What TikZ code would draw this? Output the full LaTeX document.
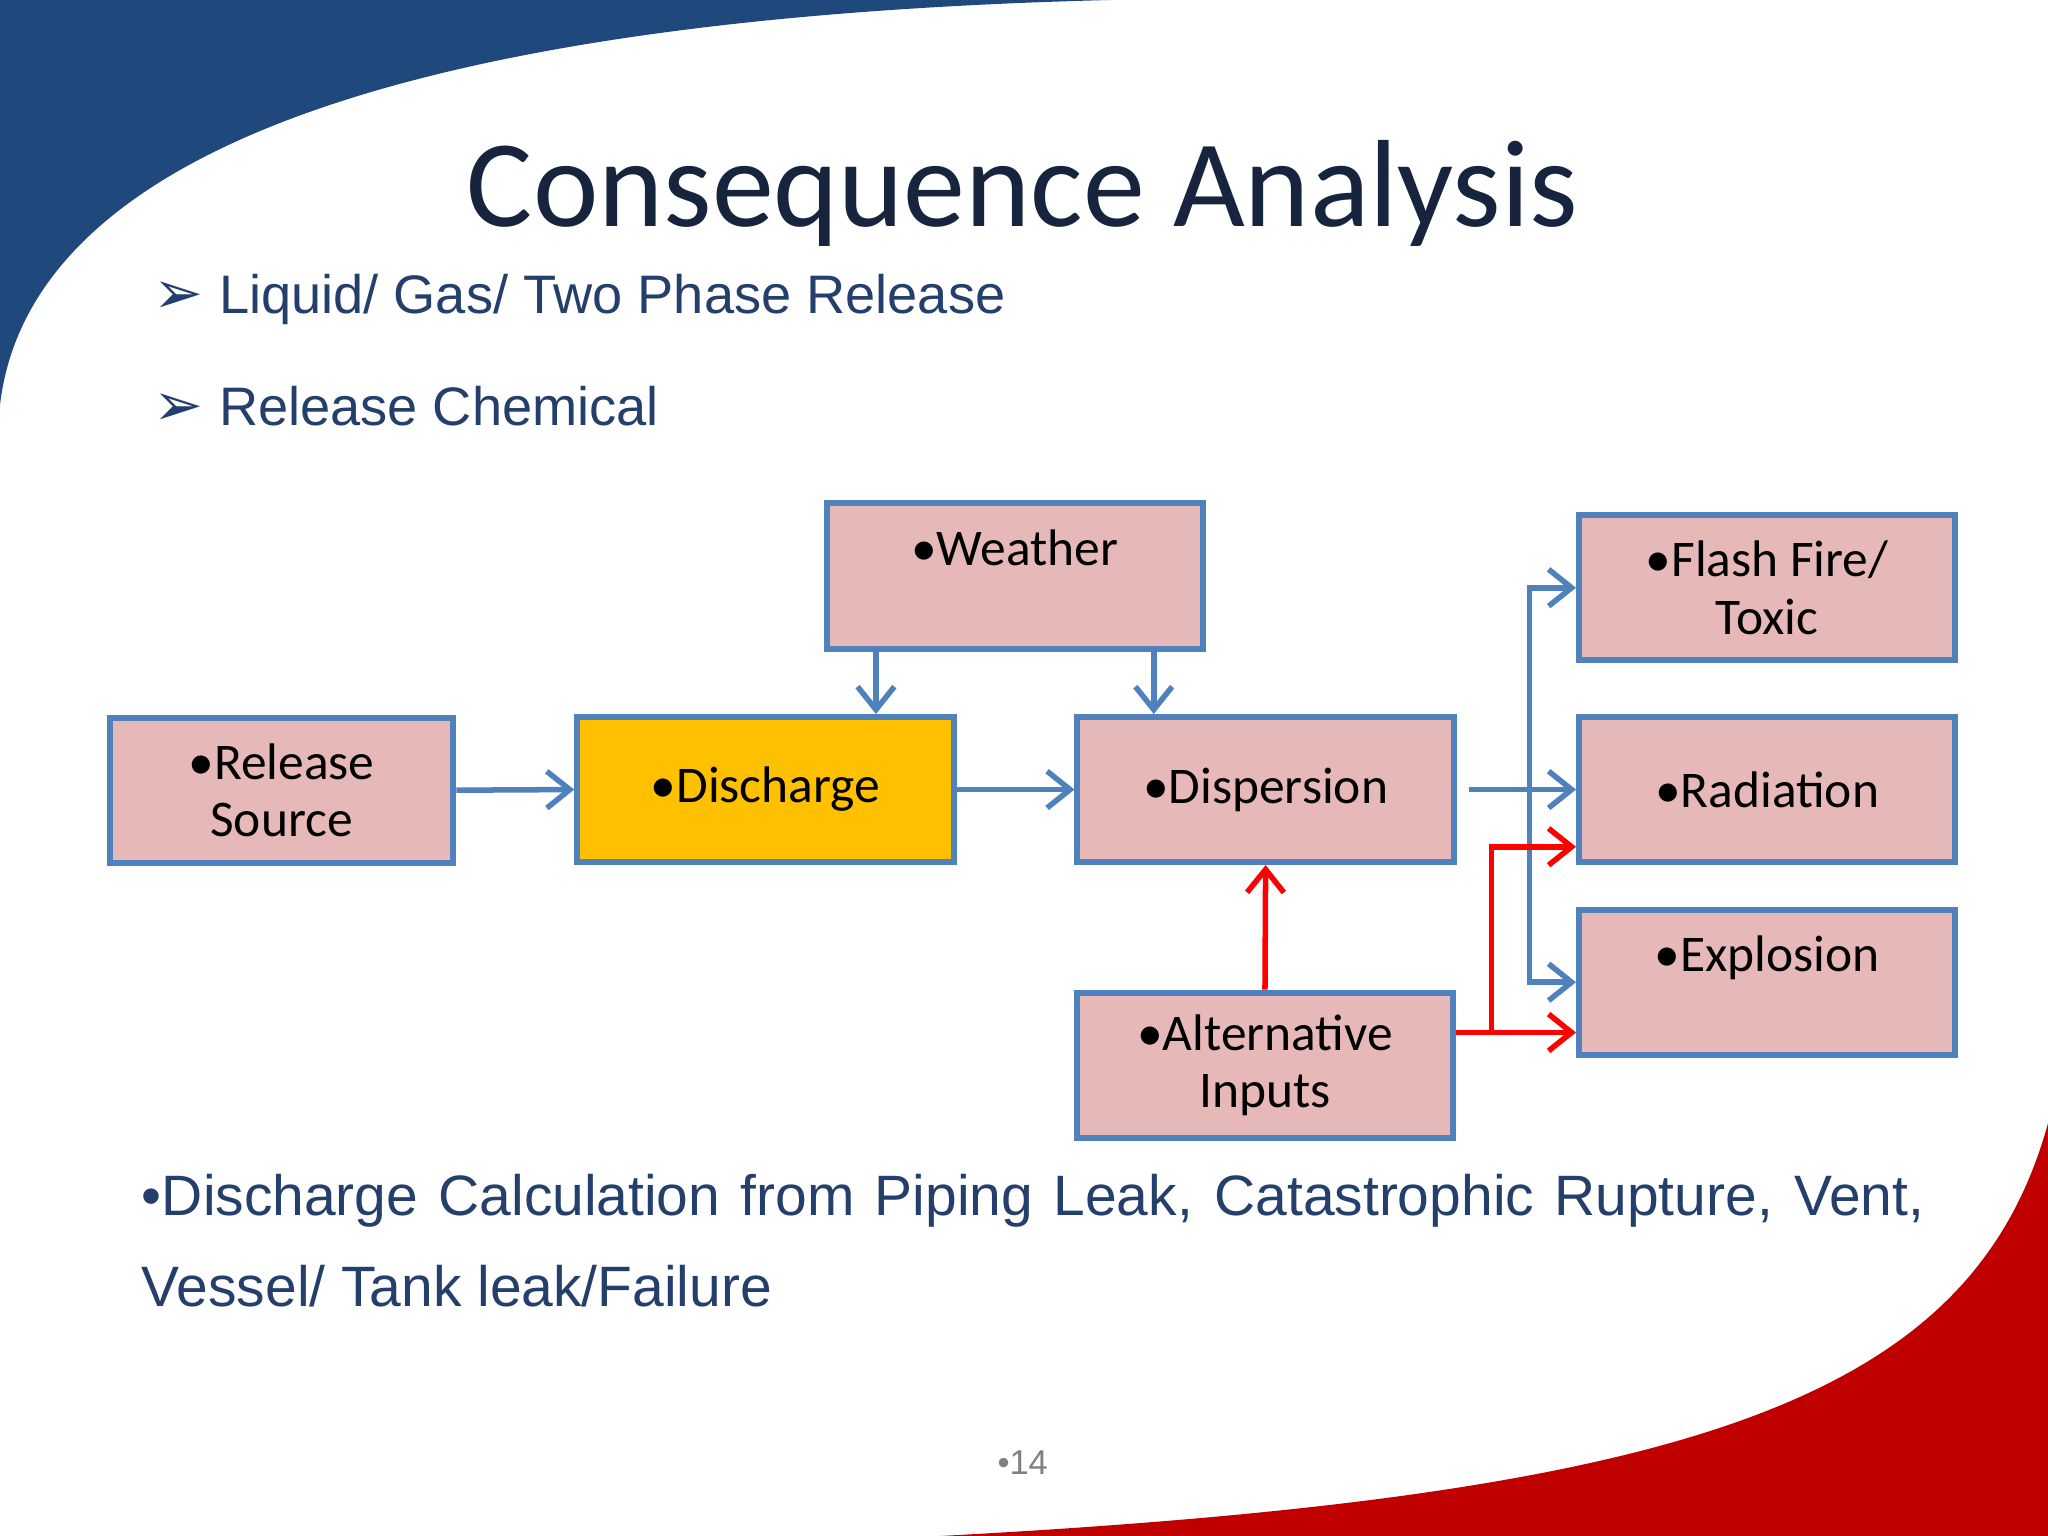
\documentclass[tikz,border=0pt]{standalone}
\usepackage{fontspec}
\setmainfont{Carlito}
\newfontfamily\arialf{Liberation Sans}
\newfontfamily\dejaf{DejaVu Sans}
\usetikzlibrary{arrows.meta,calc}
\definecolor{boxfill}{HTML}{E6B9B8}
\definecolor{boxline}{HTML}{4F81BD}
\definecolor{gold}{HTML}{FFC000}
\definecolor{titlec}{HTML}{17243D}
\definecolor{textc}{HTML}{243F6B}
\definecolor{swblue}{HTML}{1F497D}
\definecolor{swred}{HTML}{C00000}
\tikzset{
  box/.style={draw=boxline,line width=1.3pt,fill=boxfill,minimum width=2.88cm,minimum height=1.11cm,inner sep=0pt,align=center,font=\fontsize{11.2}{12.5}\selectfont},
  barrow/.style={draw=boxline,line width=1.2pt,-{Straight Barb[length=5pt,width=8pt]}},
  rarrow/.style={draw=red,line width=1.2pt,-{Straight Barb[length=5pt,width=8pt]}},
  bul/.style={anchor=west,text=textc,font=\arialf\fontsize{11.8}{14}\selectfont}
}
\begin{document}
\begin{tikzpicture}[x=0.01cm,y=-0.01cm]
\useasboundingbox (0,0) rectangle (1568,1176);
\fill[white] (0,0) rectangle (1568,1176);
% swooshes
\fill[swblue] (0,0) -- (850,0) .. controls (250,15) and (20,140) .. (0,310) -- cycle;
\fill[swred] (1568,860) .. controls (1510,1070) and (1300,1145) .. (720,1176) -- (1568,1176) -- cycle;
% title and bullets
\node[text=titlec,font=\fontsize{27}{30}\selectfont] (title) at (783,148) {Consequence Analysis};
\node[bul] (b1) at (105,229) {{\dejaf\fontsize{13}{14}\selectfont ➢}\hspace{0.12cm}Liquid/ Gas/ Two Phase Release};
\node[bul] (b2) at (105,311) {{\dejaf\fontsize{13}{14}\selectfont ➢}\hspace{0.12cm}Release Chemical};
% boxes
\node[box,minimum width=2.63cm] (rel) at (215.5,605) {•Release\\ Source};
\node[box,fill=gold] (dis) at (586,604.5) {•Discharge};
\node[box] (wea) at (777,441) {•Weather\\ \mbox{}};
\node[box] (dsp) at (969,604.5) {•Dispersion};
\node[box] (fla) at (1353,450) {•Flash Fire/\\ Toxic};
\node[box] (rad) at (1353,604.5) {•Radiation};
\node[box] (exp) at (1353,752) {•Explosion\\ \mbox{}};
\node[box] (alt) at (968.5,815.5) {•Alternative\\ Inputs};
% blue connectors
\draw[barrow] (rel.east) -- (dis.west);
\draw[barrow] (dis.east) -- (dsp.west);
\draw[barrow] ([xshift=0.4cm]wea.south west) -- ([xshift=0.4cm]wea.south west |- dis.north);
\draw[barrow] ([xshift=-0.4cm]wea.south east) -- ([xshift=-0.4cm]wea.south east |- dsp.north);
\draw[barrow] ([xshift=0.09cm]dsp.east) -- (rad.west);
\coordinate (br) at (1171,603);
\draw[barrow] (br) |- (fla.west);
\draw[barrow] (br) |- (exp.west);
% red connectors
\draw[rarrow] (alt.north) -- (dsp.south);
\coordinate (ra) at ([yshift=0.25cm]alt.east);
\draw[rarrow] (ra) -- (ra -| exp.west);
\coordinate (rb) at (1142,790);
\draw[rarrow] (rb) |- ([yshift=0.14cm]rad.south west);
% bottom text
\node[anchor=north west,text=textc,text width=13.64cm,align=justify,font=\arialf\fontsize{12.4}{20}\selectfont,inner sep=0pt] (txt) at (108,898) {•Discharge Calculation from Piping Leak, Catastrophic Rupture, Vent, Vessel/ Tank leak/Failure};
\node[text=gray,font=\arialf\fontsize{7.5}{9}\selectfont] (pg) at (783,1120) {•14};
\end{tikzpicture}
\end{document}
